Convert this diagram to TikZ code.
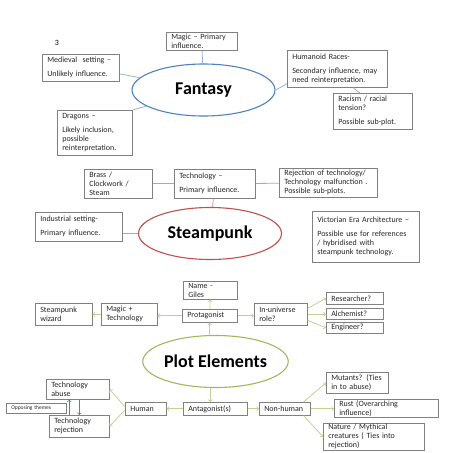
\documentclass[tikz,border=0pt]{standalone}
\usepackage{fontspec}
\setmainfont{Carlito}
\usetikzlibrary{shapes.geometric}

\definecolor{boxgray}{RGB}{128,128,128}
\definecolor{fantblue}{RGB}{79,129,189}
\definecolor{fantline}{RGB}{149,179,215}
\definecolor{steamred}{RGB}{192,80,77}
\definecolor{steamline}{RGB}{217,150,148}
\definecolor{plotgreen}{RGB}{155,187,89}
\definecolor{plotline}{RGB}{190,210,150}

\begin{document}
\begin{tikzpicture}[x=1pt, y=-1pt,
    box/.style={draw=boxgray, line width=0.6pt, fill=white, anchor=north west, align=left,
      inner xsep=5pt, inner ysep=1pt, font=\fontsize{8}{9}\selectfont, text=black!85},
    hub/.style={ellipse, line width=1.1pt, minimum width=143pt, minimum height=52pt,
      inner sep=0pt, font=\fontsize{18}{20}\selectfont\bfseries},
    fline/.style={draw=fantline, line width=0.8pt},
    sline/.style={draw=steamline, line width=0.8pt},
    parrow/.style={draw=plotline, line width=0.8pt, ->},
    oarrow/.style={draw=fantblue, line width=0.7pt, ->}]
    \useasboundingbox (0,0) rectangle (453,453);

    \node[font=\fontsize{8}{9}\selectfont] (pagenum) at (57,43) {3};
    \node[hub, draw=fantblue] (fantasy) at (203.5,90) {Fantasy};
    \node[box, text width=67pt, minimum height=27pt] (medieval) at (42,54) {Medieval\ \ setting --\\[5pt]Unlikely influence.};
    \node[box, text width=61pt, minimum height=18pt] (magic) at (166,32) {Magic -- Primary\\influence.};
    \node[box, text width=65pt, minimum height=45pt] (dragons) at (57,110) {Dragons --\\[5pt]Likely inclusion,\\possible\\reinterpretation.};
    \node[box, text width=90pt, minimum height=37pt] (humanoid) at (287,50) {Humanoid Races-\\[5pt]Secondary influence, may\\need reinterpretation.};
    \node[box, text width=69pt, minimum height=36pt] (racism) at (333,93) {Racism / racial\\tension?\\[5pt]Possible sub-plot.};
    \draw[fline] ([yshift=-6pt]medieval.east) -- (fantasy);
    \draw[fline] (magic) -- (fantasy);
    \draw[fline] (dragons.north east) -- (fantasy);
    \draw[fline] (fantasy.east) -- ([yshift=-15pt]humanoid.west);
    \draw[fline] ([xshift=16pt]humanoid.south) -- ([xshift=-13pt]racism.north);

    \node[hub, draw=steamred] (steampunk) at (210,233.5) {Steampunk};
    \node[box, text width=58pt, minimum height=29pt] (brass) at (84,169) {Brass /\\Clockwork /\\Steam};
    \node[box, text width=71pt, minimum height=29pt] (tech) at (174,169) {Technology --\\[5pt]Primary influence.};
    \node[box, text width=88pt, minimum height=29pt] (rejection) at (279,168) {Rejection of technology/\\Technology malfunction .\\Possible sub-plots.};
    \node[box, text width=77pt, minimum height=29pt] (industrial) at (35,212) {Industrial setting-\\[5pt]Primary influence.};
    \node[box, text width=97pt, minimum height=51pt] (victorian) at (312,211) {Victorian Era Architecture --\\[5pt]Possible use for references\\/ hybridised with\\steampunk technology.};
    \draw[sline] (brass) -- (tech);
    \draw[sline] (tech) -- (rejection);
    \draw[sline] (tech) -- (steampunk);
    \draw[sline] (industrial.east |- steampunk.west) -- (steampunk.west);

    \node[hub, draw=plotgreen] (plot) at (215.5,361.5) {Plot Elements};
    \node[box, text width=44pt, minimum height=18pt] (name) at (183,281) {Name -\\Giles};
    \node[box, text width=45pt, minimum height=13pt] (protag) at (182,309) {Protagonist};
    \node[box, text width=46pt, minimum height=22pt] (magictech) at (101,303) {Magic +\\Technology};
    \node[box, text width=47pt, minimum height=22pt] (wizard) at (35,303) {Steampunk\\wizard};
    \node[box, text width=43pt, minimum height=22pt] (role) at (254,303) {In-universe\\role?};
    \node[box, text width=47pt, minimum height=12pt] (researcher) at (326,292) {Researcher?};
    \node[box, text width=47pt, minimum height=11pt] (alchemist) at (326,308) {Alchemist?};
    \node[box, text width=47pt, minimum height=11pt] (engineer) at (326,322) {Engineer?};
    \node[box, text width=54pt, minimum height=13pt] (antag) at (183,402) {Antagonist(s)};
    \node[box, text width=31pt, minimum height=13pt] (human) at (125,402) {Human};
    \node[box, text width=53pt, minimum height=20pt] (abuse) at (46,379) {Technology\\abuse};
    \node[box, text width=50pt, minimum height=22pt] (techrej) at (49,415) {Technology\\rejection};
    \node[box, text width=50pt, minimum height=10pt, font=\fontsize{5.5}{6}\selectfont] (opposing) at (6,403) {Opposing themes};
    \node[box, text width=41pt, minimum height=13pt] (nonhuman) at (259,402) {Non-human};
    \node[box, text width=52pt, minimum height=21pt] (mutants) at (326,372) {Mutants? (Ties\\in to abuse)};
    \node[box, text width=94pt, minimum height=18pt] (rust) at (334,399) {Rust (Overarching\\influence)};
    \node[box, text width=91pt, minimum height=27pt] (nature) at (323,423) {Nature / Mythical\\creatures ( Ties into\\rejection)};

    \draw[parrow] (protag.south |- plot.north) -- (protag);
    \draw[parrow] (protag) -- (name);
    \draw[parrow] (protag.west) -- (protag.west -| magictech.east);
    \draw[parrow] (magictech.west) -- (magictech.west -| wizard.east);
    \draw[parrow] (protag.east) -- (protag.east -| role.west);
    \draw[parrow] ([yshift=6pt]role.east) -- (researcher.west);
    \draw[parrow] (role.east) -- (role.east -| alchemist.west);
    \draw[parrow] ([yshift=-6pt]role.east) -- (engineer.west);
    \draw[parrow] ([xshift=-5pt]antag.north |- plot.south) -- ([xshift=-5pt]antag.north);
    \draw[parrow] (antag.west) -- (antag.west -| human.east);
    \draw[parrow] (antag.east) -- (antag.east -| nonhuman.west);
    \draw[parrow] ([yshift=2pt]human.west) -- (abuse.east);
    \draw[parrow] ([yshift=-1pt]human.west) -- (techrej.east);
    \draw[parrow] ([xshift=-7pt]nonhuman.north east) -- (mutants.west);
    \draw[parrow] (nonhuman.east) -- (nonhuman.east -| rust.west);
    \draw[parrow] ([xshift=-7pt]nonhuman.south east) -- (nature.west);
    \draw[oarrow] ([xshift=-10pt]techrej.north) -- ([xshift=-10pt]techrej.north |- abuse.south);
    \draw[oarrow] ([xshift=1.5pt]abuse.south) -- ([xshift=1.5pt]abuse.south |- techrej.north);
\end{tikzpicture}
\end{document}
